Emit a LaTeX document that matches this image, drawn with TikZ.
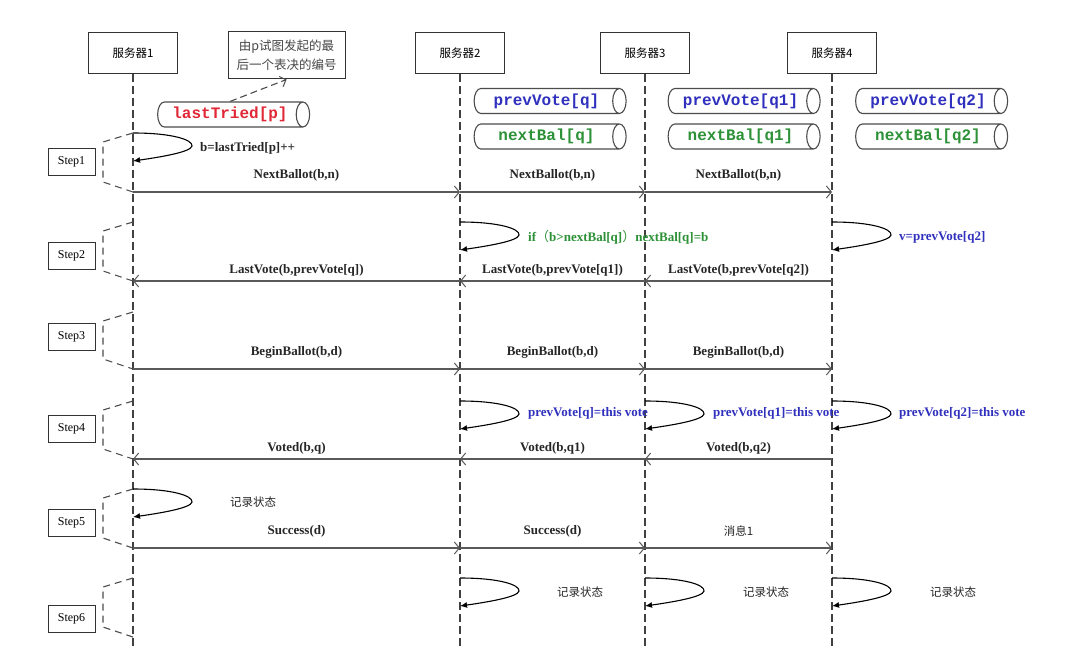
\documentclass[tikz,border=0pt]{standalone}
\usepackage{fontspec}
\setmainfont{Liberation Serif}
\newfontfamily\cjk{Noto Sans CJK SC}
\newfontfamily\monof{Liberation Mono}
\usetikzlibrary{arrows.meta,shapes.geometric,calc}
\definecolor{vblue}{RGB}{48,48,190}
\definecolor{vgreen}{RGB}{45,145,55}
\definecolor{vred}{RGB}{225,40,55}
\newcommand{\myloop}[3]{%
  \coordinate (#1t) at (#2,#3);
  \coordinate (#1e) at (#2,#3+28);
  \draw[loopl] (#1t) .. controls ($(#1t)+(40,0)$) and ($(#1t)+(60,7)$) .. ($(#1t)+(59,13)$)
     .. controls ($(#1t)+(58,19)$) and ($(#1t)+(28,24)$) .. (#1e);}
\newcommand{\mybrk}[3]{%
  \coordinate (#1t) at (133,#2);
  \coordinate (#1b) at (133,#3);
  \draw[brk] (#1t) -- ($(#1t)+(-30,9)$) -- ($(#1b)+(-30,-10)$) -- (#1b);}
\begin{document}
\begin{tikzpicture}[x=1pt,y=-1pt,
  server/.style={draw=black!80, line width=1pt, fill=white, minimum width=89pt, minimum height=41pt, inner sep=0pt, font=\cjk\fontsize{11.5}{13}\selectfont},
  note/.style={draw=black!80, line width=1pt, fill=white, minimum width=117pt, minimum height=47pt, inner sep=0pt, align=center, text=black!72, font=\cjk\fontsize{12.5}{19}\selectfont},
  cyl/.style={cylinder, shape aspect=0.9, draw=black!70, line width=1.1pt, fill=white, minimum width=25pt, minimum height=152pt, inner sep=0pt, font=\monof\bfseries\fontsize{16}{18}\selectfont},
  life/.style={draw=black!75, line width=1.1pt, dash pattern=on 8pt off 4pt},
  brk/.style={draw=black!70, line width=1.1pt, dash pattern=on 7pt off 5pt},
  stepbox/.style={draw=black!80, line width=1pt, fill=white, minimum width=47pt, minimum height=27pt, inner sep=0pt, font=\fontsize{12}{14}\selectfont},
  msg/.style={draw=black!65, line width=1.2pt, -{Straight Barb[length=5pt,width=12pt,line width=1pt]}},
  loopl/.style={draw=black, line width=1.1pt, -{Latex[length=7pt,width=6pt]}},
  lbl/.style={font=\bfseries\fontsize{13}{15}\selectfont, text=black!85, inner sep=1pt},
  rlbl/.style={lbl, midway, yshift=17pt},
  llbl/.style={lbl, midway, yshift=11pt},
  cnote/.style={font=\cjk\fontsize{11.5}{13}\selectfont, text=black!85, inner sep=0pt, anchor=west}
]
\useasboundingbox (0,0) rectangle (1070,671);
\fill[white] (0,0) rectangle (1070,671);

% servers
\node[server] (s1) at (133,53) {服务器1};
\node[server] (s2) at (460,53) {服务器2};
\node[server] (s3) at (645,53) {服务器3};
\node[server] (s4) at (832,53) {服务器4};
\foreach \i/\xx in {1/133,2/460,3/645,4/832} {
  \coordinate (end\i) at (\xx,647);
  \draw[life] (s\i.south) -- (end\i);
}

% note and variables
\node[note] (note) at (286.5,55.5) {由p试图发起的最\\后一个表决的编号};
\node[cyl, text=vred] (lt) at (230,114.5) {lastTried[p]};
\draw[black!70, line width=1.1pt, dash pattern=on 7pt off 4pt, -{Straight Barb[length=5pt,width=11pt,line width=1pt]}] (lt.north) -- (note.south);
\node[cyl, text=vblue] (pv) at (546.5,101) {prevVote[q]};
\node[cyl, text=vgreen] (nb) at (546.5,136.5) {nextBal[q]};
\node[cyl, text=vblue] (pv1) at (740.5,101) {prevVote[q1]};
\node[cyl, text=vgreen] (nb1) at (740.5,136.5) {nextBal[q1]};
\node[cyl, text=vblue] (pv2) at (928,101) {prevVote[q2]};
\node[cyl, text=vgreen] (nb2) at (928,136.5) {nextBal[q2]};

% message coordinates
\foreach \n/\yy in {m1/192,m2/281,m3/369,m4/459,m5/548} {
  \foreach \i/\xx in {1/133,2/460,3/645,4/832} {
    \coordinate (\n-\i) at (\xx,\yy);
  }
}

% steps
\mybrk{b1}{133}{192}
\mybrk{b2}{222}{281}
\mybrk{b3}{312}{369}
\mybrk{b4}{401}{459}
\mybrk{b5}{489}{548}
\mybrk{b6}{578}{637}
\node[stepbox] (st1) at (71.5,162) {Step1};
\node[stepbox] (st2) at (71.5,256) {Step2};
\node[stepbox] (st3) at (71.5,337) {Step3};
\node[stepbox] (st4) at (71.5,428.5) {Step4};
\node[stepbox] (st5) at (71.5,522.5) {Step5};
\node[stepbox] (st6) at (71.5,618.5) {Step6};

% step 1
\myloop{la}{133}{133}
\node[lbl, anchor=west] (t1) at (199,148) {b=lastTried[p]++};
\draw[msg] (m1-1) -- node[rlbl] {NextBallot(b,n)} (m1-2);
\draw[msg] (m1-2) -- node[rlbl] {NextBallot(b,n)} (m1-3);
\draw[msg] (m1-3) -- node[rlbl] {NextBallot(b,n)} (m1-4);

% step 2
\myloop{lb}{460}{222}
\myloop{lc}{832}{222}
\node[lbl, anchor=west, text=vgreen] (t2) at (527,237) {if{\cjk\mdseries （}b>nextBal[q]{\cjk\mdseries ）}nextBal[q]=b};
\node[lbl, anchor=west, text=vblue] (t3) at (898,237) {v=prevVote[q2]};
\draw[msg] (m2-2) -- node[llbl] {LastVote(b,prevVote[q])} (m2-1);
\draw[msg] (m2-3) -- node[llbl] {LastVote(b,prevVote[q1])} (m2-2);
\draw[msg] (m2-4) -- node[llbl] {LastVote(b,prevVote[q2])} (m2-3);

% step 3
\draw[msg] (m3-1) -- node[rlbl] {BeginBallot(b,d)} (m3-2);
\draw[msg] (m3-2) -- node[rlbl] {BeginBallot(b,d)} (m3-3);
\draw[msg] (m3-3) -- node[rlbl] {BeginBallot(b,d)} (m3-4);

% step 4
\myloop{ld}{460}{401}
\myloop{le}{645}{401}
\myloop{lf}{832}{401}
\node[lbl, anchor=west, text=vblue] (t4) at (527,413) {prevVote[q]=this vote};
\node[lbl, anchor=west, text=vblue] (t5) at (712,413) {prevVote[q1]=this vote};
\node[lbl, anchor=west, text=vblue] (t6) at (898,413) {prevVote[q2]=this vote};
\draw[msg] (m4-2) -- node[llbl] {Voted(b,q)} (m4-1);
\draw[msg] (m4-3) -- node[llbl] {Voted(b,q1)} (m4-2);
\draw[msg] (m4-4) -- node[llbl] {Voted(b,q2)} (m4-3);

% step 5
\myloop{lg}{133}{489}
\node[cnote] (t7) at (230,502) {记录状态};
\draw[msg] (m5-1) -- node[rlbl] {Success(d)} (m5-2);
\draw[msg] (m5-2) -- node[rlbl] {Success(d)} (m5-3);
\draw[msg] (m5-3) -- node[rlbl, font=\cjk\fontsize{11.5}{13}\selectfont] {消息1} (m5-4);

% step 6
\myloop{lh}{460}{578}
\myloop{li}{645}{578}
\myloop{lj}{832}{578}
\node[cnote] (t8) at (557,592) {记录状态};
\node[cnote] (t9) at (743,592) {记录状态};
\node[cnote] (t10) at (930,592) {记录状态};
\end{tikzpicture}
\end{document}
